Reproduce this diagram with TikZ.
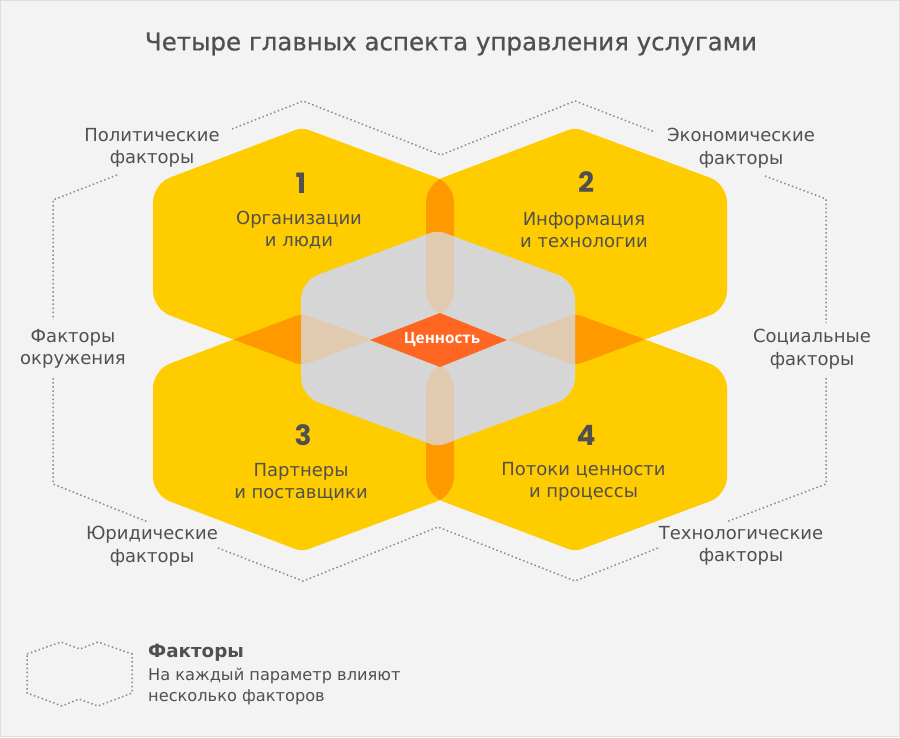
\documentclass[tikz,border=0pt]{standalone}
\usepackage{fontspec}
\setmainfont{DejaVu Sans}
\newfontfamily\titlefont[FakeBold=0.6]{DejaVu Sans}
\newfontfamily\numfont{Poppins}
\newfontfamily\valfont{Open Sans}
\definecolor{bgc}{HTML}{F3F3F3}
\definecolor{edgec}{HTML}{DEDEDE}
\definecolor{yel}{HTML}{FFCC00}
\definecolor{org}{HTML}{FF9900}
\definecolor{gry}{HTML}{D6D6D6}
\definecolor{tan}{HTML}{E0CBB0}
\definecolor{red}{HTML}{FF6622}
\definecolor{txt}{HTML}{505050}
\definecolor{dotc}{HTML}{8A8A8A}
\tikzset{
  lbl/.style={text=txt,font=\fontsize{18}{22.5}\selectfont,align=center,inner sep=0pt},
  numlbl/.style={text=txt,font=\fontsize{28}{28}\numfont\bfseries,inner sep=0pt},
  dotline/.style={draw=dotc,line width=1.5pt,dash pattern=on 1.5pt off 2.6pt},
}
\newcommand{\hexat}[3]{(#1-150.5,#2) [rounded corners=18pt] -- (#1-150.5,#2-62.5) [rounded corners=7pt] -- (#3,#2-119) [rounded corners=18pt] -- (#1+150.5,#2-62.5) -- (#1+150.5,#2+62.5) [rounded corners=7pt] -- (#3,#2+119) [rounded corners=18pt] -- (#1-150.5,#2+62.5) -- cycle}
\newcommand{\hexA}{\hexat{303.5}{246.5}{302}}
\newcommand{\hexB}{\hexat{576.5}{246.5}{575}}
\newcommand{\hexC}{\hexat{303.5}{432.5}{302}}
\newcommand{\hexD}{\hexat{576.5}{432.5}{575}}
\newcommand{\hexG}{(301,338) [rounded corners=18pt] -- (301,281) [rounded corners=7pt] -- (437.5,230.5) [rounded corners=18pt] -- (575,281) -- (575,396) [rounded corners=7pt] -- (437.5,446.5) [rounded corners=18pt] -- (301,396) -- cycle}
\newcommand{\lens}[3]{\begin{scope}\clip #1;\clip #2;\fill[#3] (0,0) rectangle (900,737);\end{scope}}
\newcommand{\lensg}[3]{\begin{scope}\clip \hexG;\clip #1;\clip #2;\fill[#3] (0,0) rectangle (900,737);\end{scope}}
\begin{document}
\begin{tikzpicture}[x=1pt,y=-1pt]
\useasboundingbox (0,0) rectangle (900,737);
\fill[bgc] (0,0) rectangle (900,737);
\fill[edgec] (0,0) rectangle (900,1);
\fill[edgec] (0,0) rectangle (1,737);
\fill[edgec] (899,0) rectangle (900,737);
\fill[edgec] (0,736) rectangle (900,737);
% hexagons
\fill[yel] \hexA;
\fill[yel] \hexB;
\fill[yel] \hexC;
\fill[yel] \hexD;
\lens{\hexA}{\hexB}{org}
\lens{\hexC}{\hexD}{org}
\lens{\hexA}{\hexC}{org}
\lens{\hexB}{\hexD}{org}
\fill[gry] \hexG;
\lensg{\hexA}{\hexB}{tan}
\lensg{\hexC}{\hexD}{tan}
\lensg{\hexA}{\hexC}{tan}
\lensg{\hexB}{\hexD}{tan}
\fill[red] (370,340) -- (440,313) -- (507,340) -- (440,367) -- cycle;
% dotted outline
\draw[dotline] (232,129) -- (303,101) -- (441,155) -- (575,101) -- (655,132);
\draw[dotline] (117,175) -- (53,200) -- (53,320);
\draw[dotline] (765,176) -- (826,199) -- (826,323);
\draw[dotline] (53,378) -- (53,484) -- (148,522);
\draw[dotline] (826,378) -- (826,484) -- (726,522);
\draw[dotline] (218,548) -- (303,581) -- (438,527) -- (575,581) -- (658,548);
% legend
\draw[dotline] (27,654) -- (61,642) -- (80,649) -- (98,642) -- (132,654) -- (132,693) -- (98,706) -- (79,699) -- (62,706) -- (27,693) -- cycle;
% texts
\node[text=txt,font=\fontsize{24.5}{28}\titlefont,inner sep=0pt] (title) at (451,44) {Четыре главных аспекта управления услугами};
\node[numlbl] (n1) at (301,183) {1};
\node[numlbl] (n2) at (586,182) {2};
\node[numlbl] (n3) at (303,435) {3};
\node[numlbl] (n4) at (586,435) {4};
\node[lbl] (t1) at (299,230) {Организации\\и люди};
\node[lbl] (t2) at (584,230) {Информация\\и технологии};
\node[lbl] (t3) at (301,482) {Партнеры\\и поставщики};
\node[lbl] (t4) at (583.5,482) {Потоки ценности\\и процессы};
\node[text=white,font=\fontsize{15.3}{16}\valfont\bfseries,inner sep=0pt] (val) at (442,340) {Ценность};
\node[lbl] (f1) at (152,148) {Политические\\факторы};
\node[lbl] (f2) at (741,148) {Экономические\\факторы};
\node[lbl] (f3) at (73,349) {Факторы\\окружения};
\node[lbl] (f4) at (812,349) {Социальные\\факторы};
\node[lbl] (f5) at (152,546) {Юридические\\факторы};
\node[lbl] (f6) at (741,546) {Технологические\\факторы};
\node[text=txt,font=\fontsize{18.3}{20}\selectfont\bfseries,inner sep=0pt,anchor=west] (lg1) at (148,653) {Факторы};
\node[text=txt,font=\fontsize{16.2}{21}\selectfont,inner sep=0pt,align=left,anchor=west] (lg2) at (148,687) {На каждый параметр влияют\\несколько факторов};
\end{tikzpicture}
\end{document}
